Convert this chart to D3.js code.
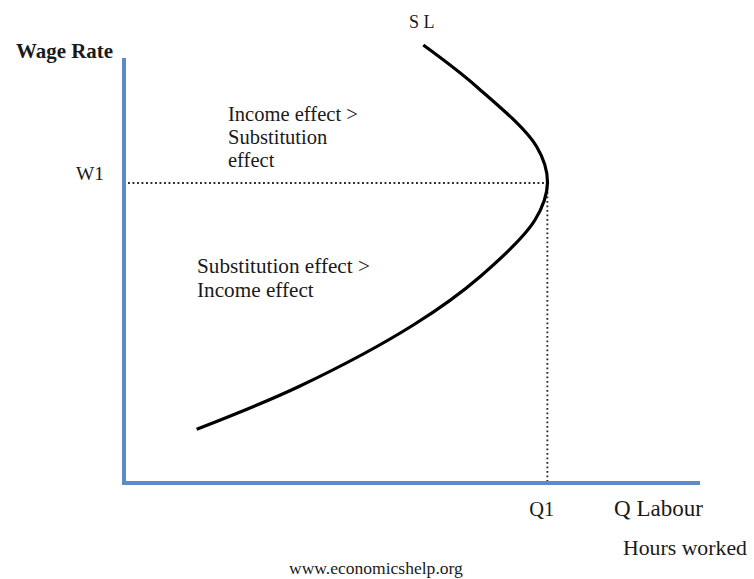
<!DOCTYPE html>
<html>
<head>
<meta charset="utf-8">
<script src="https://cdn.jsdelivr.net/npm/d3@7"></script>
<style>
  html, body { margin: 0; padding: 0; background: #fff; }
  svg { display: block; }
  text { font-family: "Liberation Serif", "Times New Roman", serif; fill: #1a1a1a; }
</style>
</head>
<body>
<svg id="chart" width="754" height="579"></svg>
<script>
// ---- data (chart units: 0..100 on each axis), ordered from top of curve to bottom ----
const supplyX = [51.96, 61.23, 71.65, 73.52, 71.35, 61.81, 50.23, 30.56, 12.62];
const supplyY = [103.06, 93.25, 79.13, 70.59, 61.88, 48.54, 37.18, 22.82, 12.64];
const w1Value = [70.6];
const q1Value = [73.5];
const axisLabels = ["Wage Rate", "Q Labour", "Hours worked"];
const markerLabels = ["W1", "Q1", "S L"];
const upperNote = ["Income effect >", "Substitution", "effect"];
const lowerNote = ["Substitution effect >", "Income effect"];
const sourceLabel = ["www.economicshelp.org"];

const svg = d3.select("#chart");
const x = d3.scaleLinear().domain([0, 100]).range([124, 700]);
const y = d3.scaleLinear().domain([0, 100]).range([483, 58]);

const axisColor = "#5b8cc9";

// axes
svg.append("line")
  .attr("x1", x(0)).attr("x2", x(0))
  .attr("y1", y(100)).attr("y2", y(0) + 2)
  .attr("stroke", axisColor).attr("stroke-width", 4);
svg.append("line")
  .attr("x1", x(0) - 2).attr("x2", x(100))
  .attr("y1", y(0)).attr("y2", y(0))
  .attr("stroke", axisColor).attr("stroke-width", 4);

// dotted guides
svg.append("line")
  .attr("x1", x(0) + 4).attr("x2", x(q1Value[0]))
  .attr("y1", y(w1Value[0])).attr("y2", y(w1Value[0]))
  .attr("stroke", "#2a2a2a").attr("stroke-width", 1.9)
  .attr("stroke-dasharray", "1.9,2.6");
svg.append("line")
  .attr("x1", x(q1Value[0])).attr("x2", x(q1Value[0]))
  .attr("y1", y(w1Value[0])).attr("y2", y(0) - 2)
  .attr("stroke", "#2a2a2a").attr("stroke-width", 1.9)
  .attr("stroke-dasharray", "1.9,2.6");

// backward-bending supply curve
const pts = supplyX.map((v, i) => [v, supplyY[i]]);
const line = d3.line()
  .x(d => x(d[0])).y(d => y(d[1]))
  .curve(d3.curveCatmullRom.alpha(0.5));
svg.append("path")
  .attr("d", line(pts))
  .attr("fill", "none")
  .attr("stroke", "#000")
  .attr("stroke-width", 3.2)
  .attr("stroke-linecap", "butt");

// text helper: fit to a measured width from the reference
function label(txt, px, py, width, opts = {}) {
  const t = svg.append("text")
    .attr("x", px).attr("y", py)
    .style("font-size", "20px")
    .style("font-weight", opts.bold ? "bold" : "normal")
    .text(txt);
  if (width) {
    const w = t.node().getComputedTextLength();
    const fs = 20 * width / w;
    t.style("font-size", fs + "px");
    return fs;
  }
  return 20;
}
function labelSized(txt, px, py, fs, weight) {
  svg.append("text").attr("x", px).attr("y", py)
    .style("font-size", fs + "px")
    .style("font-weight", weight || "normal")
    .text(txt);
}

label(axisLabels[0], 16, 58, 97, { bold: true });
label(markerLabels[0], 76, y(w1Value[0]) - 3, 28);
labelSized(markerLabels[2], 409, 28, 18);

const fsUp = label(upperNote[0], 228, 121, 130);
labelSized(upperNote[1], 228, 144, fsUp);
labelSized(upperNote[2], 228, 167, fsUp);

const fsLow = label(lowerNote[0], 197, 273, 173);
labelSized(lowerNote[1], 197, 297, fsLow);

label(markerLabels[1], x(q1Value[0]) - 18, 516, 25);
label(axisLabels[1], 614, 516, 89);
label(axisLabels[2], 623, 555, 124);
label(sourceLabel[0], 289, 574, 174);
</script>
</body>
</html>
